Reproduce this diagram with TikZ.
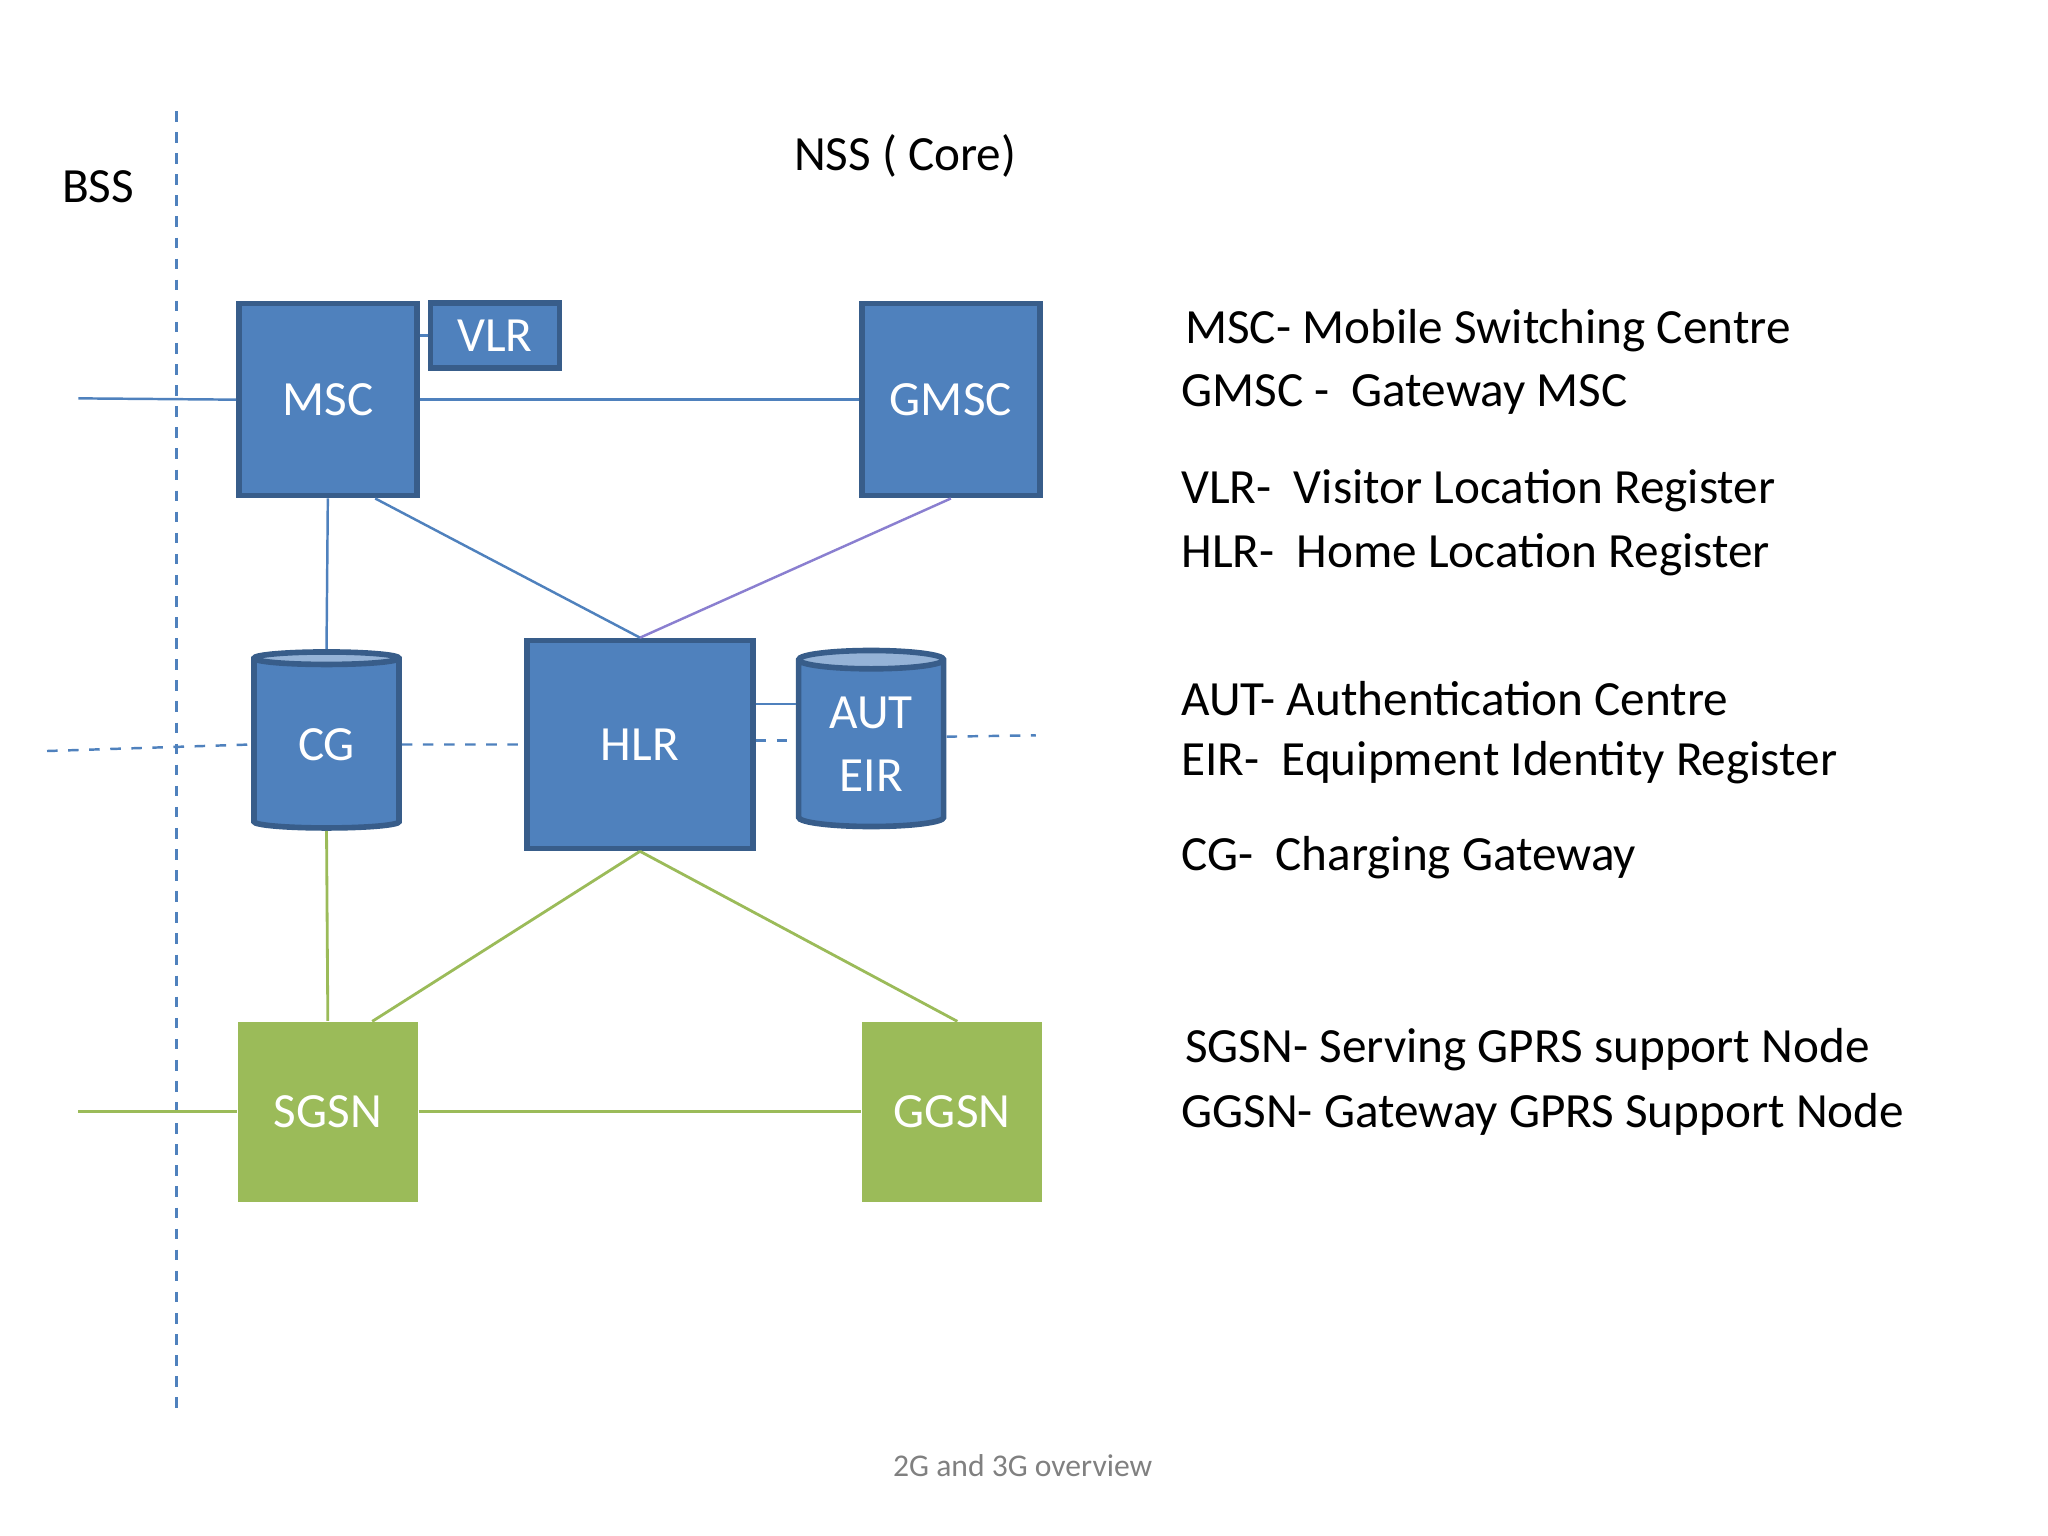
\documentclass[tikz,border=0pt]{standalone}
\usepackage{fontspec}
\setmainfont{Carlito}
\usetikzlibrary{shapes.geometric}
\definecolor{nblue}{HTML}{4F81BD}
\definecolor{nbord}{HTML}{385D8A}
\definecolor{ntop}{HTML}{95B3D7}
\definecolor{ngreen}{HTML}{9BBB59}
\definecolor{nviolet}{HTML}{8A7FD0}
\begin{document}
\begin{tikzpicture}[x=0.01306cm,y=-0.01306cm,
  box/.style={draw=nbord,line width=1.6pt,fill=nblue,text=white,font=\fontsize{14}{16}\selectfont,inner sep=0pt},
  gbox/.style={fill=ngreen,text=white,font=\fontsize{14}{16}\selectfont,minimum width=1.8cm,minimum height=1.8cm,inner sep=0pt},
  db/.style={cylinder,shape border rotate=90,aspect=0.22,draw=nbord,line width=1.6pt,cylinder uses custom fill,
    cylinder body fill=nblue,cylinder end fill=ntop,text=white,font=\fontsize{14}{16}\selectfont,
    minimum width=1.45cm,minimum height=1.76cm,inner sep=0pt,align=center},
  link/.style={nblue,line width=0.7pt},
  glink/.style={ngreen,line width=0.8pt},
  bord/.style={nblue,dashed,line width=0.7pt},
  leg/.style={anchor=west,font=\fontsize{14}{16}\selectfont}]
\useasboundingbox (0,0) rectangle (1568,1176);
% boxes
\node[box,minimum width=1.78cm,minimum height=1.92cm] (msc) at (251,306) {MSC};
\node[box,minimum width=1.29cm,minimum height=0.65cm] (vlr) at (379,257) {VLR};
\node[box,minimum width=1.78cm,minimum height=1.92cm] (gmsc) at (728,306) {GMSC};
\node[box,minimum width=2.26cm,minimum height=2.08cm] (hlr) at (490,570) {HLR};
\node[db] (cg) at (250,570) {CG};
\node[db] (aut) at (667,570) {AUT\\[2pt]EIR};
\node[gbox] (sgsn) at (251,851) {SGSN};
\node[gbox] (ggsn) at (729,851) {GGSN};
\coordinate (l1) at (60,305);
\coordinate (l2) at (60,851);
\coordinate (d1) at (36,575);
\coordinate (d2) at (793,563);
% dashed borders
\draw[bord] (135,85) -- (135,1085);
\draw[bord] (d1) -- (cg.west);
\draw[bord] (cg.east) -- (hlr.west);
\draw[bord] (hlr.east |- 0,567) -- (aut.west |- 0,567);
\draw[bord] (aut.east |- 0,564) -- (d2);
% blue links
\draw[link] (l1) -- (msc.west);
\draw[link] (msc) -- (gmsc);
\draw[link] (msc.east |- 0,257) -- (vlr.west);
\draw[link] (msc.south) -- (cg.top);
\draw[link] (msc.south east) ++(-34,0) -- (hlr.north);
\draw[nviolet,line width=0.7pt] (gmsc.south) -- (hlr.north);
\draw[link] (hlr.east |- 0,539) -- (aut.west |- 0,539);
% green links
\draw[glink] (cg.bottom) -- (sgsn.north);
\draw[glink] (hlr.south) -- (285,782);
\draw[glink] (hlr.south) -- (733,782);
\draw[glink] (sgsn) -- (ggsn);
\draw[glink] (l2) -- (sgsn.west);
% titles
\node[anchor=west,font=\fontsize{14}{16}\selectfont] (bss) at (38,143) {BSS};
\node[font=\fontsize{14}{16}\selectfont] (nss) at (693,119) {NSS ( Core)};
% legend
\node[leg] (t1) at (898,253) {MSC- Mobile Switching Centre};
\node[leg] (t2) at (895,302) {GMSC -\ \ Gateway MSC};
\node[leg] (t3) at (895,376) {VLR-\ \ Visitor Location Register};
\node[leg] (t4) at (895,425) {HLR-\ \ Home Location Register};
\node[leg] (t5) at (895,535) {AUT- Authentication Centre};
\node[leg] (t6) at (895,584) {EIR-\ \ Equipment Identity Register};
\node[leg] (t7) at (895,657) {CG-\ \ Charging Gateway};
\node[leg] (t8) at (898,804) {SGSN- Serving GPRS support Node};
\node[leg] (t9) at (895,853) {GGSN- Gateway GPRS Support Node};
\node[text=gray,font=\fontsize{9}{11}\selectfont] (ft) at (783,1122) {2G and 3G overview};
\end{tikzpicture}
\end{document}
